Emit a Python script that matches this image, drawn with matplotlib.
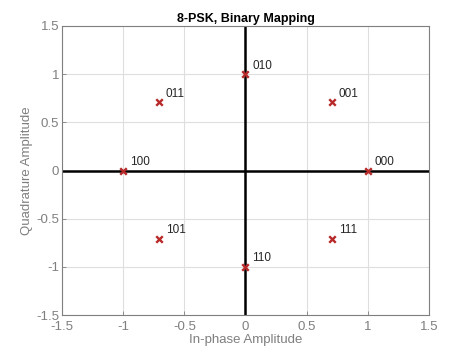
import matplotlib
matplotlib.use("Agg")
import matplotlib.pyplot as plt

# constellation points (in-phase, quadrature) and their bit labels
in_phase = [1.0, 0.7071, 0.0, -0.7071, -1.0, -0.7071, 0.0, 0.7071]
quadrature = [0.0, 0.7071, 1.0, 0.7071, 0.0, -0.7071, -1.0, -0.7071]
symbols = ["000", "001", "010", "011", "100", "101", "110", "111"]
ticks = [-1.5, -1, -0.5, 0, 0.5, 1, 1.5]
tick_labels = ["-1.5", "-1", "-0.5", "0", "0.5", "1", "1.5"]

plt.rcParams["font.family"] = ["Liberation Sans", "DejaVu Sans"]
grey = "#7f7f7f"

fig = plt.figure(figsize=(4.74, 3.55), dpi=100)
ax = fig.add_axes([62 / 474, 1 - 315 / 355, (429 - 62) / 474, (315 - 26) / 355])

ax.axhline(0, color="black", lw=1.8, zorder=1)
ax.axvline(0, color="black", lw=1.8, zorder=1)
ax.scatter(in_phase, quadrature, marker="x", s=22, linewidths=1.7, color="#b82a2a", zorder=3)
for x, y, s in zip(in_phase, quadrature, symbols):
    ax.annotate(s, (x, y), xytext=(5, 4), textcoords="offset points",
                fontsize=8.5, color="#262626")

ax.set_xlim(-1.5, 1.5)
ax.set_ylim(-1.5, 1.5)
ax.set_xticks(ticks, tick_labels)
ax.set_yticks(ticks, tick_labels)
ax.grid(True, color="#dedede", lw=0.8)
ax.set_axisbelow(True)
for sp in ax.spines.values():
    sp.set_color(grey)
    sp.set_linewidth(0.8)
ax.tick_params(colors=grey, labelsize=9.5, length=3, width=0.6, direction="in", pad=2)
ax.tick_params(axis="x", pad=4)

ax.set_title("8-PSK, Binary Mapping", fontsize=9, fontweight="bold", pad=3)
ax.set_xlabel("In-phase Amplitude", fontsize=9.5, color=grey, labelpad=1)
ax.set_ylabel("Quadrature Amplitude", fontsize=9.5, color=grey, labelpad=2)

fig.savefig("out.png", dpi=100)
